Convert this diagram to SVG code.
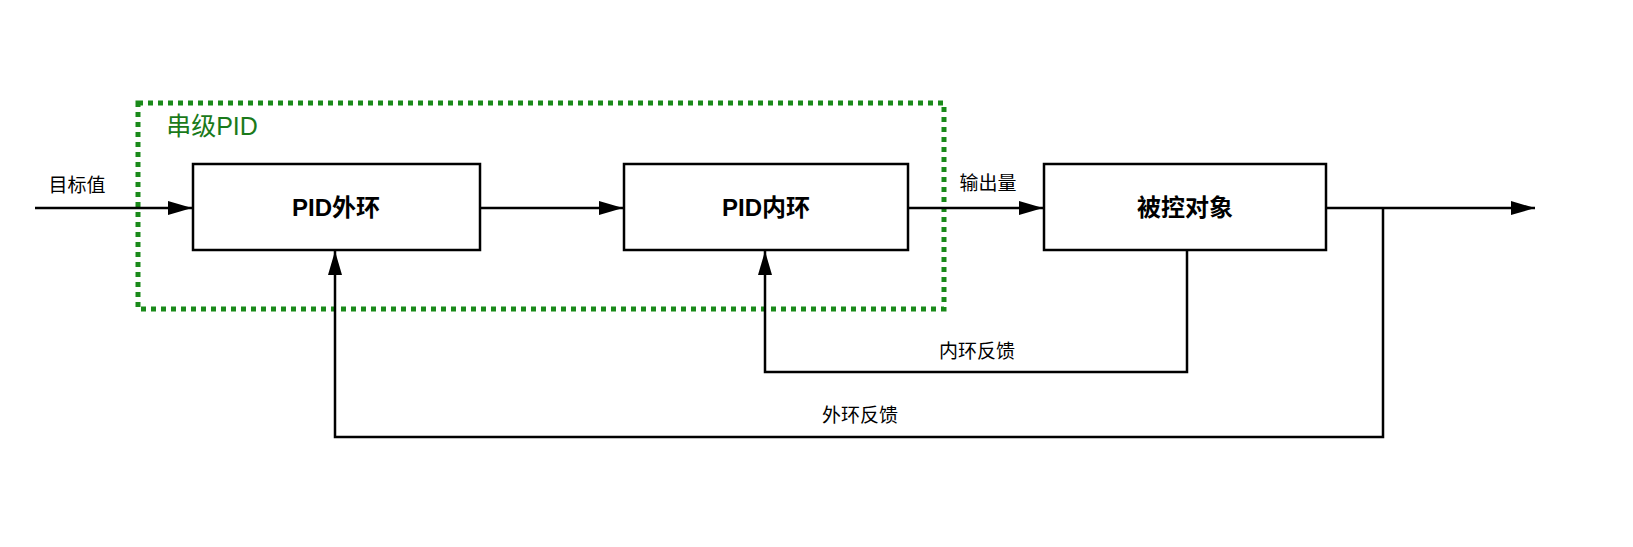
<svg xmlns="http://www.w3.org/2000/svg" width="1633" height="547" viewBox="0 0 1633 547">
<style>
.box{fill:#fff;stroke:#000;stroke-width:2.5}
.bt{font-family:"Liberation Sans","Noto Sans CJK SC",sans-serif;font-size:24px;font-weight:bold;text-anchor:middle}
.lt{font-family:"Liberation Sans","Noto Sans CJK SC",sans-serif;font-size:19px;text-anchor:middle}
.ln{fill:none;stroke:#000;stroke-width:2.5}
</style>
<defs><marker id="a" markerWidth="10" markerHeight="8" refX="9" refY="4" orient="auto" markerUnits="userSpaceOnUse" viewBox="0 0 10 8"><path d="M0,0L10,4L0,8z"/></marker>
<marker id="b" markerWidth="24" markerHeight="14" refX="24" refY="7" orient="auto" markerUnits="userSpaceOnUse"><path d="M0,0L24,7L0,14z"/></marker></defs>
<rect width="1633" height="547" fill="#fff"/>
<g id="group"><rect x="138" y="103" width="806" height="206" fill="none" stroke="#1a8a1a" stroke-width="5" stroke-dasharray="5,5"/>
<text x="212" y="135" font-family="Liberation Sans,Noto Sans CJK SC,sans-serif" font-size="25" fill="#1a7a1a" text-anchor="middle">串级PID</text></g>
<g id="connectors">
<path class="ln" d="M35,208H192" marker-end="url(#b)"/>
<path class="ln" d="M480,208H623" marker-end="url(#b)"/>
<path class="ln" d="M908,208H1043" marker-end="url(#b)"/>
<path class="ln" d="M1326,208H1535" marker-end="url(#b)"/>
<path class="ln" d="M1187,250V372H765V251" marker-end="url(#b)"/>
<path class="ln" d="M1383,208V437H335V251" marker-end="url(#b)"/>
<text class="lt" x="77" y="192">目标值</text>
<text class="lt" x="988" y="190">输出量</text>
<text class="lt" x="977" y="358">内环反馈</text>
<text class="lt" x="860" y="422">外环反馈</text>
</g>
<g id="n1"><rect class="box" x="193" y="164" width="287" height="86"/><text class="bt" x="336" y="216">PID外环</text></g>
<g id="n2"><rect class="box" x="624" y="164" width="284" height="86"/><text class="bt" x="766" y="216">PID内环</text></g>
<g id="n3"><rect class="box" x="1044" y="164" width="282" height="86"/><text class="bt" x="1185" y="216">被控对象</text></g>
</svg>
